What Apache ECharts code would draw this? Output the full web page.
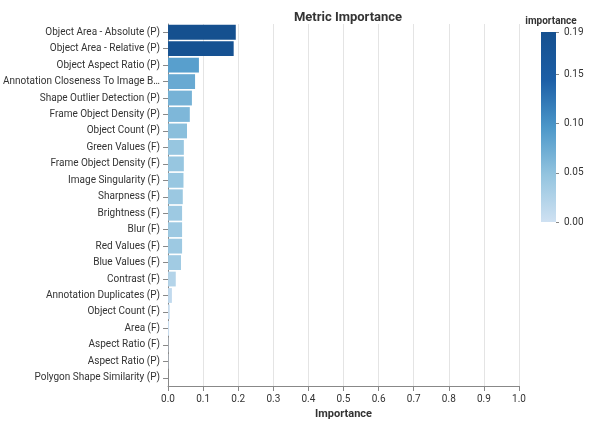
<!DOCTYPE html>
<html>
<head>
<meta charset="utf-8">
<script src="https://cdn.jsdelivr.net/npm/echarts@6/dist/echarts.min.js"></script>
<style>html,body{margin:0;padding:0;background:#fff}#chart{width:605px;height:425px}</style>
</head>
<body>
<div id="chart"></div>
<script>
var metrics = [
    'Object Area - Absolute (P)', 'Object Area - Relative (P)', 'Object Aspect Ratio (P)',
    'Annotation Closeness To Image B…', 'Shape Outlier Detection (P)', 'Frame Object Density (P)',
    'Object Count (P)', 'Green Values (F)', 'Frame Object Density (F)', 'Image Singularity (F)',
    'Sharpness (F)', 'Brightness (F)', 'Blur (F)', 'Red Values (F)', 'Blue Values (F)',
    'Contrast (F)', 'Annotation Duplicates (P)', 'Object Count (F)', 'Area (F)',
    'Aspect Ratio (F)', 'Aspect Ratio (P)', 'Polygon Shape Similarity (P)'
];
var importance = [
    0.193, 0.187, 0.088, 0.077, 0.068, 0.062, 0.054, 0.045, 0.045, 0.044, 0.042,
    0.040, 0.040, 0.040, 0.037, 0.022, 0.011, 0.005, 0.003, 0.001, 0.001, 0
];
var xTicks = [0, 1];
var maxImp = 0.193;
var colors = ['#cfe1f2', '#93c4df', '#4b97c9', '#1c5ea6', '#15508f'];

var font = 'Roboto';
var chart = echarts.init(document.getElementById('chart'));
chart.setOption({
    animation: false,
    textStyle: {fontFamily: font},
    title: {
        text: 'Metric Importance', left: 343, top: 6, textAlign: 'center',
        textStyle: {fontSize: 13, fontWeight: 'bold', color: '#333', fontFamily: font}
    },
    visualMap: {
        show: false, type: 'continuous', min: 0, max: maxImp, seriesIndex: 0, dimension: 0,
        inRange: {color: colors}
    },
    grid: [
        {left: 166, right: 86, top: 24, bottom: 39},
        {left: 541, top: 32, width: 15, height: 190}
    ],
    xAxis: [{
        type: 'value', min: xTicks[0], max: xTicks[1], interval: 0.1,
        name: 'Importance', nameLocation: 'middle', nameGap: 20,
        nameTextStyle: {fontWeight: 'bold', fontSize: 11, color: '#333'},
        axisLine: {show: true, lineStyle: {color: '#888'}},
        axisTick: {show: true, lineStyle: {color: '#888'}},
        axisLabel: {fontSize: 10, color: '#333', formatter: function (v) { return v.toFixed(1); }},
        splitLine: {show: true, lineStyle: {color: '#e4e4e4'}}
    }, {
        gridIndex: 1, type: 'category', data: ['i'], show: false
    }],
    yAxis: [{
        type: 'category', data: metrics, inverse: true,
        axisLine: {show: true, lineStyle: {color: '#888'}},
        axisTick: {show: true, alignWithLabel: true, lineStyle: {color: '#888'}},
        axisLabel: {fontSize: 10, color: '#333', interval: 0}
    }, {
        gridIndex: 1, type: 'value', min: 0, max: maxImp, interval: 0.05, position: 'right',
        name: 'importance', nameLocation: 'end', nameGap: 6,
        nameTextStyle: {fontWeight: 'bold', fontSize: 10, color: '#333', align: 'center', padding: [0, 0, 0, -10]},
        axisLine: {show: false}, axisTick: {show: true, length: 3, lineStyle: {color: '#888'}},
        splitLine: {show: false},
        axisLabel: {fontSize: 10, color: '#333', formatter: function (v) { return v.toFixed(2); }}
    }],
    series: [{
        type: 'bar', data: importance, barCategoryGap: '10%',
        encode: {x: 0, y: 1}
    }, {
        type: 'bar', xAxisIndex: 1, yAxisIndex: 1, data: [maxImp], barWidth: '100%', silent: true,
        itemStyle: {
            color: new echarts.graphic.LinearGradient(0, 1, 0, 0, colors.map(function (c, i) {
                return {offset: i / (colors.length - 1), color: c};
            }))
        }
    }]
});
</script>
</body>
</html>
